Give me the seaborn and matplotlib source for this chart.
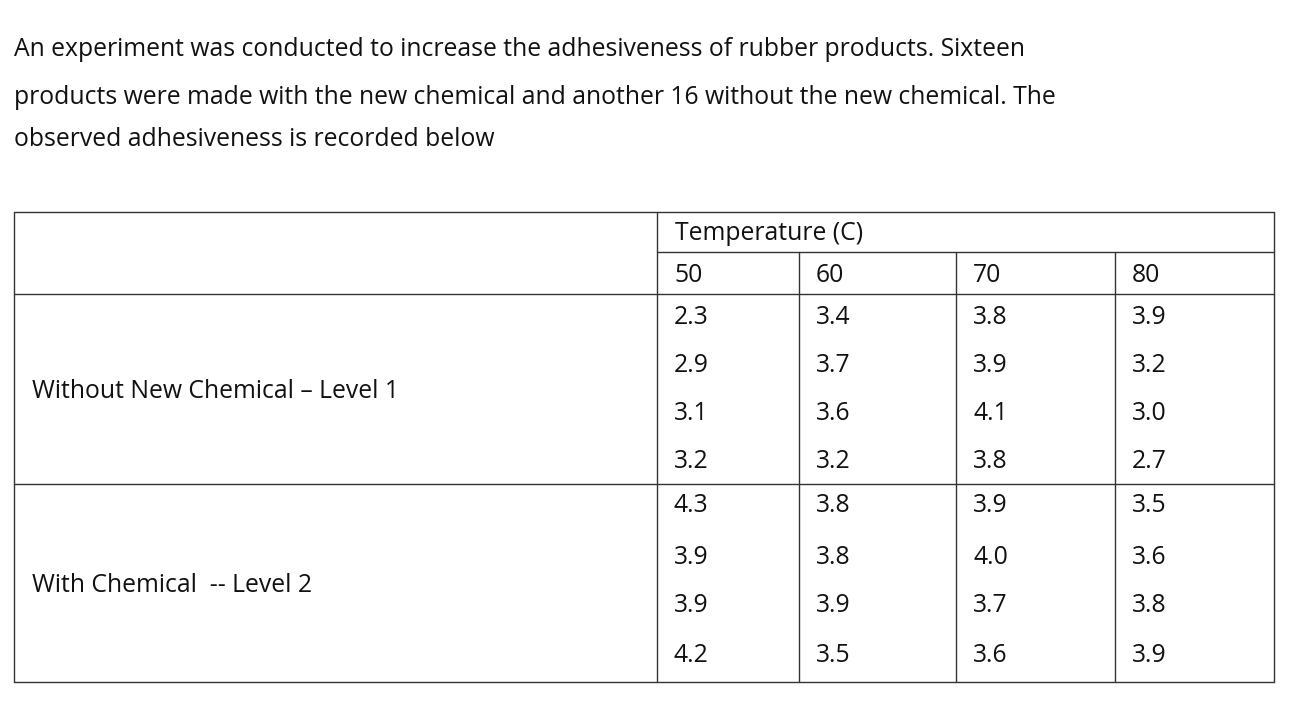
import matplotlib
matplotlib.use("Agg")
import matplotlib.pyplot as plt
import seaborn as sns

# intro text
intro = [
    "An experiment was conducted to increase the adhesiveness of rubber products. Sixteen",
    "products were made with the new chemical and another 16 without the new chemical. The",
    "observed adhesiveness is recorded below",
]

temps = ["50", "60", "70", "80"]
level1 = [["2.3", "3.4", "3.8", "3.9"],
          ["2.9", "3.7", "3.9", "3.2"],
          ["3.1", "3.6", "4.1", "3.0"],
          ["3.2", "3.2", "3.8", "2.7"]]
level2 = [["4.3", "3.8", "3.9", "3.5"],
          ["3.9", "3.8", "4.0", "3.6"],
          ["3.9", "3.9", "3.7", "3.8"],
          ["4.2", "3.5", "3.6", "3.9"]]
groups = ["Without New Chemical \u2013 Level 1", "With Chemical  -- Level 2"]

sns.set_style("white")
plt.rcParams['font.family'] = ['Open Sans', 'DejaVu Sans']

fig = plt.figure(figsize=(13.08, 7.06), dpi=100)
ax = fig.add_axes([0, 0, 1, 1])
ax.set_xlim(0, 1308)
ax.set_ylim(706, 0)
ax.axis("off")

fs = 17.8
for i, line in enumerate(intro):
    ax.text(14, [50, 97, 140][i], line, fontsize=fs, va="center", ha="left", color="#111111")

# layout
left, right = 14, 1274
cols = [657, 799, 956, 1115]
top, hdr1, hdr2 = 212, 252, 294
group_bounds = [(294, 484), (484, 682)]
lw = 1.0
c = "#333333"

ax.plot([left, right], [top, top], color=c, lw=lw)
ax.plot([cols[0], right], [hdr1, hdr1], color=c, lw=lw)
ax.plot([left, right], [hdr2, hdr2], color=c, lw=lw)
for y0, y1 in group_bounds:
    ax.plot([left, right], [y1, y1], color=c, lw=lw)
ax.plot([left, left], [top, 682], color=c, lw=lw)
ax.plot([right, right], [top, 682], color=c, lw=lw)
ax.plot([cols[0], cols[0]], [top, 682], color=c, lw=lw)
for x in cols[1:]:
    ax.plot([x, x], [hdr1, 682], color=c, lw=lw)

ax.text(cols[0] + 18, (top + hdr1) / 2 + 2, "Temperature (C)", fontsize=fs, va="center", color="#111111")
for j, t in enumerate(temps):
    ax.text(cols[j] + 17, (hdr1 + hdr2) / 2 + 2, t, fontsize=fs, va="center", color="#111111")

row_y = [[318, 366, 414, 462], [505, 558, 606, 655]]
for g, data in enumerate([level1, level2]):
    y0, y1 = group_bounds[g]
    ax.text(32, (y0 + y1) / 2 + 3, groups[g], fontsize=fs, va="center", color="#111111")
    for r, row in enumerate(data):
        for j, v in enumerate(row):
            ax.text(cols[j] + 17, row_y[g][r], v, fontsize=fs, va="center", color="#111111")

fig.savefig("out.png", dpi=100)
